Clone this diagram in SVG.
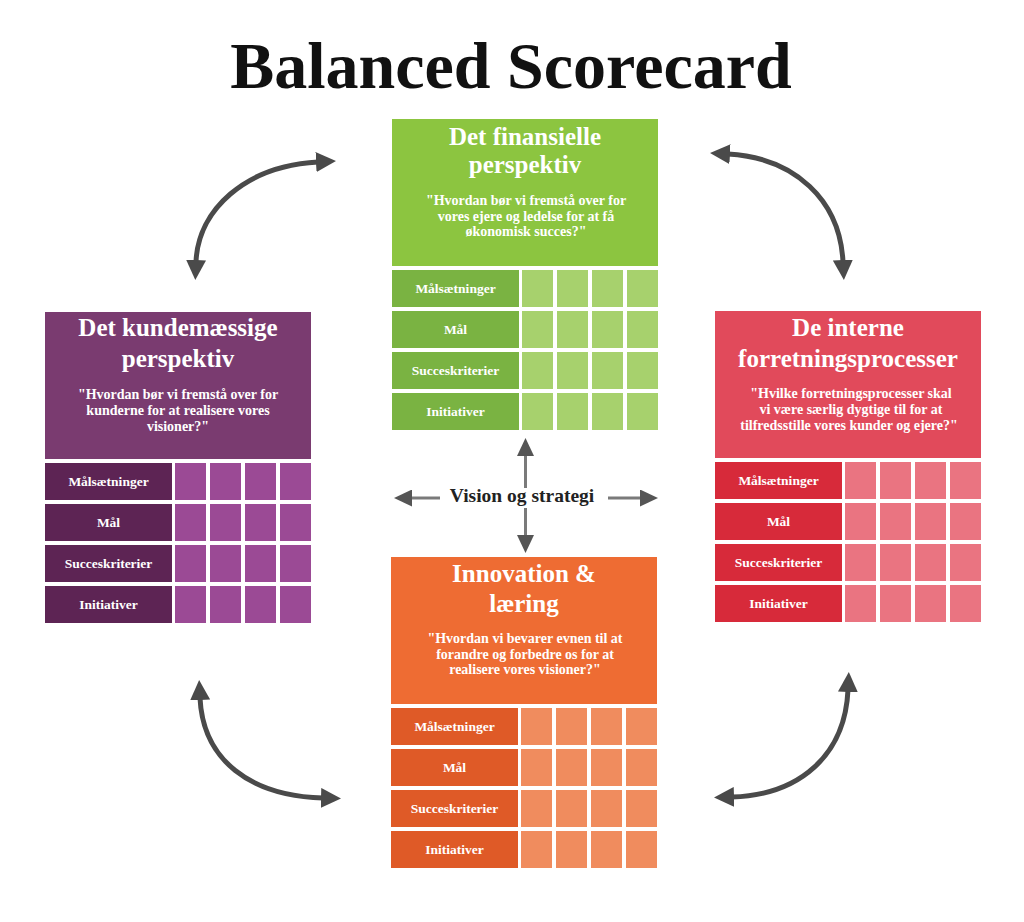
<svg xmlns="http://www.w3.org/2000/svg" width="1024" height="922" viewBox="0 0 1024 922">
<style>
  .serif { font-family: "Liberation Serif", "Times New Roman", serif; font-weight: bold; }
  .title { font-size: 66px; fill: #111; }
  .h { font-size: 25px; fill: #ffffff; text-anchor: middle; }
  .q { font-size: 14px; fill: #ffffff; text-anchor: middle; }
  .lab { font-size: 13.5px; fill: #ffffff; text-anchor: middle; }
  .vs { font-size: 19.5px; fill: #222; text-anchor: middle; }
  .g-h { fill: #8cc540; } .g-l { fill: #7ab342; } .g-c { fill: #a7d16d; }
  .p-h { fill: #7a3b70; } .p-l { fill: #5d2454; } .p-c { fill: #9b4a95; }
  .r-h { fill: #e14a5b; } .r-l { fill: #d72a3a; } .r-c { fill: #ea7481; }
  .o-h { fill: #ee6c33; } .o-l { fill: #df5a27; } .o-c { fill: #f08c5e; }
  .curve { fill: none; stroke: #4a4a4a; stroke-width: 5; marker-start: url(#bigHead); marker-end: url(#bigHead); }
  .straight { fill: none; stroke: #7a7a7a; stroke-width: 3; marker-end: url(#smallHead); }
</style>
<defs>
  <marker id="bigHead" viewBox="0 0 20 20" refX="2" refY="10" markerWidth="20" markerHeight="20" markerUnits="userSpaceOnUse" orient="auto-start-reverse">
    <path d="M0,0 L20,10 L0,20 Z" fill="#4a4a4a"/>
  </marker>
  <marker id="smallHead" viewBox="0 0 18 17" refX="1" refY="8.5" markerWidth="18" markerHeight="17" markerUnits="userSpaceOnUse" orient="auto">
    <path d="M0,0 L18,8.5 L0,17 Z" fill="#555555"/>
  </marker>
</defs>
<rect width="1024" height="922" fill="#ffffff"/>

<text class="serif title" x="511" y="88" text-anchor="middle">Balanced Scorecard</text>

<!-- Green: financial -->
<g id="finansielle" transform="translate(392,119)">
  <rect class="g-h" x="0" y="0" width="266" height="147"/>
  <text class="serif h" x="133" y="26">Det finansielle</text>
  <text class="serif h" x="133" y="54">perspektiv</text>
  <text class="serif q" x="134" y="86">"Hvordan bør vi fremstå over for</text>
  <text class="serif q" x="134" y="102">vores ejere og ledelse for at få</text>
  <text class="serif q" x="134" y="117">økonomisk succes?"</text>
  <g>
    <rect class="g-l" x="0" y="151" width="127" height="37"/>
    <rect class="g-c" x="130" y="151" width="31" height="37"/><rect class="g-c" x="165" y="151" width="31" height="37"/><rect class="g-c" x="200" y="151" width="31" height="37"/><rect class="g-c" x="235" y="151" width="31" height="37"/>
    <rect class="g-l" x="0" y="192" width="127" height="37"/>
    <rect class="g-c" x="130" y="192" width="31" height="37"/><rect class="g-c" x="165" y="192" width="31" height="37"/><rect class="g-c" x="200" y="192" width="31" height="37"/><rect class="g-c" x="235" y="192" width="31" height="37"/>
    <rect class="g-l" x="0" y="233" width="127" height="37"/>
    <rect class="g-c" x="130" y="233" width="31" height="37"/><rect class="g-c" x="165" y="233" width="31" height="37"/><rect class="g-c" x="200" y="233" width="31" height="37"/><rect class="g-c" x="235" y="233" width="31" height="37"/>
    <rect class="g-l" x="0" y="274" width="127" height="37"/>
    <rect class="g-c" x="130" y="274" width="31" height="37"/><rect class="g-c" x="165" y="274" width="31" height="37"/><rect class="g-c" x="200" y="274" width="31" height="37"/><rect class="g-c" x="235" y="274" width="31" height="37"/>
  </g>
  <text class="serif lab" x="63.5" y="174">Målsætninger</text>
  <text class="serif lab" x="63.5" y="215">Mål</text>
  <text class="serif lab" x="63.5" y="256">Succeskriterier</text>
  <text class="serif lab" x="63.5" y="297">Initiativer</text>
</g>

<!-- Purple: customer -->
<g id="kundemaessige" transform="translate(45,312)">
  <rect class="p-h" x="0" y="0" width="266" height="147"/>
  <text class="serif h" x="133" y="24">Det kundemæssige</text>
  <text class="serif h" x="133" y="55">perspektiv</text>
  <text class="serif q" x="133" y="87">"Hvordan bør vi fremstå over for</text>
  <text class="serif q" x="133" y="103">kunderne for at realisere vores</text>
  <text class="serif q" x="133" y="119">visioner?"</text>
  <g>
    <rect class="p-l" x="0" y="151" width="127" height="37"/>
    <rect class="p-c" x="130" y="151" width="31" height="37"/><rect class="p-c" x="165" y="151" width="31" height="37"/><rect class="p-c" x="200" y="151" width="31" height="37"/><rect class="p-c" x="235" y="151" width="31" height="37"/>
    <rect class="p-l" x="0" y="192" width="127" height="37"/>
    <rect class="p-c" x="130" y="192" width="31" height="37"/><rect class="p-c" x="165" y="192" width="31" height="37"/><rect class="p-c" x="200" y="192" width="31" height="37"/><rect class="p-c" x="235" y="192" width="31" height="37"/>
    <rect class="p-l" x="0" y="233" width="127" height="37"/>
    <rect class="p-c" x="130" y="233" width="31" height="37"/><rect class="p-c" x="165" y="233" width="31" height="37"/><rect class="p-c" x="200" y="233" width="31" height="37"/><rect class="p-c" x="235" y="233" width="31" height="37"/>
    <rect class="p-l" x="0" y="274" width="127" height="37"/>
    <rect class="p-c" x="130" y="274" width="31" height="37"/><rect class="p-c" x="165" y="274" width="31" height="37"/><rect class="p-c" x="200" y="274" width="31" height="37"/><rect class="p-c" x="235" y="274" width="31" height="37"/>
  </g>
  <text class="serif lab" x="63.5" y="174">Målsætninger</text>
  <text class="serif lab" x="63.5" y="215">Mål</text>
  <text class="serif lab" x="63.5" y="256">Succeskriterier</text>
  <text class="serif lab" x="63.5" y="297">Initiativer</text>
</g>

<!-- Red: internal processes -->
<g id="interne" transform="translate(715,311)">
  <rect class="r-h" x="0" y="0" width="266" height="147"/>
  <text class="serif h" x="133" y="25">De interne</text>
  <text class="serif h" x="133" y="56">forretningsprocesser</text>
  <text class="serif q" x="136" y="87">"Hvilke forretningsprocesser skal</text>
  <text class="serif q" x="136" y="103">vi være særlig dygtige til for at</text>
  <text class="serif q" x="134" y="119">tilfredsstille vores kunder og ejere?"</text>
  <g>
    <rect class="r-l" x="0" y="151" width="127" height="37"/>
    <rect class="r-c" x="130" y="151" width="31" height="37"/><rect class="r-c" x="165" y="151" width="31" height="37"/><rect class="r-c" x="200" y="151" width="31" height="37"/><rect class="r-c" x="235" y="151" width="31" height="37"/>
    <rect class="r-l" x="0" y="192" width="127" height="37"/>
    <rect class="r-c" x="130" y="192" width="31" height="37"/><rect class="r-c" x="165" y="192" width="31" height="37"/><rect class="r-c" x="200" y="192" width="31" height="37"/><rect class="r-c" x="235" y="192" width="31" height="37"/>
    <rect class="r-l" x="0" y="233" width="127" height="37"/>
    <rect class="r-c" x="130" y="233" width="31" height="37"/><rect class="r-c" x="165" y="233" width="31" height="37"/><rect class="r-c" x="200" y="233" width="31" height="37"/><rect class="r-c" x="235" y="233" width="31" height="37"/>
    <rect class="r-l" x="0" y="274" width="127" height="37"/>
    <rect class="r-c" x="130" y="274" width="31" height="37"/><rect class="r-c" x="165" y="274" width="31" height="37"/><rect class="r-c" x="200" y="274" width="31" height="37"/><rect class="r-c" x="235" y="274" width="31" height="37"/>
  </g>
  <text class="serif lab" x="63.5" y="174">Målsætninger</text>
  <text class="serif lab" x="63.5" y="215">Mål</text>
  <text class="serif lab" x="63.5" y="256">Succeskriterier</text>
  <text class="serif lab" x="63.5" y="297">Initiativer</text>
</g>

<!-- Orange: innovation -->
<g id="innovation" transform="translate(391,557)">
  <rect class="o-h" x="0" y="0" width="266" height="147"/>
  <text class="serif h" x="133" y="25">Innovation &amp;</text>
  <text class="serif h" x="133" y="55">læring</text>
  <text class="serif q" x="134" y="86">"Hvordan vi bevarer evnen til at</text>
  <text class="serif q" x="134" y="102">forandre og forbedre os for at</text>
  <text class="serif q" x="134" y="117">realisere vores visioner?"</text>
  <g>
    <rect class="o-l" x="0" y="151" width="127" height="37"/>
    <rect class="o-c" x="130" y="151" width="31" height="37"/><rect class="o-c" x="165" y="151" width="31" height="37"/><rect class="o-c" x="200" y="151" width="31" height="37"/><rect class="o-c" x="235" y="151" width="31" height="37"/>
    <rect class="o-l" x="0" y="192" width="127" height="37"/>
    <rect class="o-c" x="130" y="192" width="31" height="37"/><rect class="o-c" x="165" y="192" width="31" height="37"/><rect class="o-c" x="200" y="192" width="31" height="37"/><rect class="o-c" x="235" y="192" width="31" height="37"/>
    <rect class="o-l" x="0" y="233" width="127" height="37"/>
    <rect class="o-c" x="130" y="233" width="31" height="37"/><rect class="o-c" x="165" y="233" width="31" height="37"/><rect class="o-c" x="200" y="233" width="31" height="37"/><rect class="o-c" x="235" y="233" width="31" height="37"/>
    <rect class="o-l" x="0" y="274" width="127" height="37"/>
    <rect class="o-c" x="130" y="274" width="31" height="37"/><rect class="o-c" x="165" y="274" width="31" height="37"/><rect class="o-c" x="200" y="274" width="31" height="37"/><rect class="o-c" x="235" y="274" width="31" height="37"/>
  </g>
  <text class="serif lab" x="63.5" y="174">Målsætninger</text>
  <text class="serif lab" x="63.5" y="215">Mål</text>
  <text class="serif lab" x="63.5" y="256">Succeskriterier</text>
  <text class="serif lab" x="63.5" y="297">Initiativer</text>
</g>

<!-- Center -->
<g id="vision">
  <text class="serif vs" x="522" y="502">Vision og strategi</text>
</g>

<!-- Connectors -->
<g id="connectors">
  <path class="curve" d="M196,262 C198,210 245,166 318,162"/>
  <path class="curve" d="M728,154 C795,158 840,200 843,262"/>
  <path class="curve" d="M200,698 C203,760 250,796 323,798"/>
  <path class="curve" d="M848,690 C845,755 800,795 732,797"/>
  <path class="straight" d="M525.5,488 L525.5,455"/>
  <path class="straight" d="M525.5,508 L525.5,536"/>
  <path class="straight" d="M440,498 L411,498"/>
  <path class="straight" d="M608,498 L641,498"/>
</g>
</svg>
